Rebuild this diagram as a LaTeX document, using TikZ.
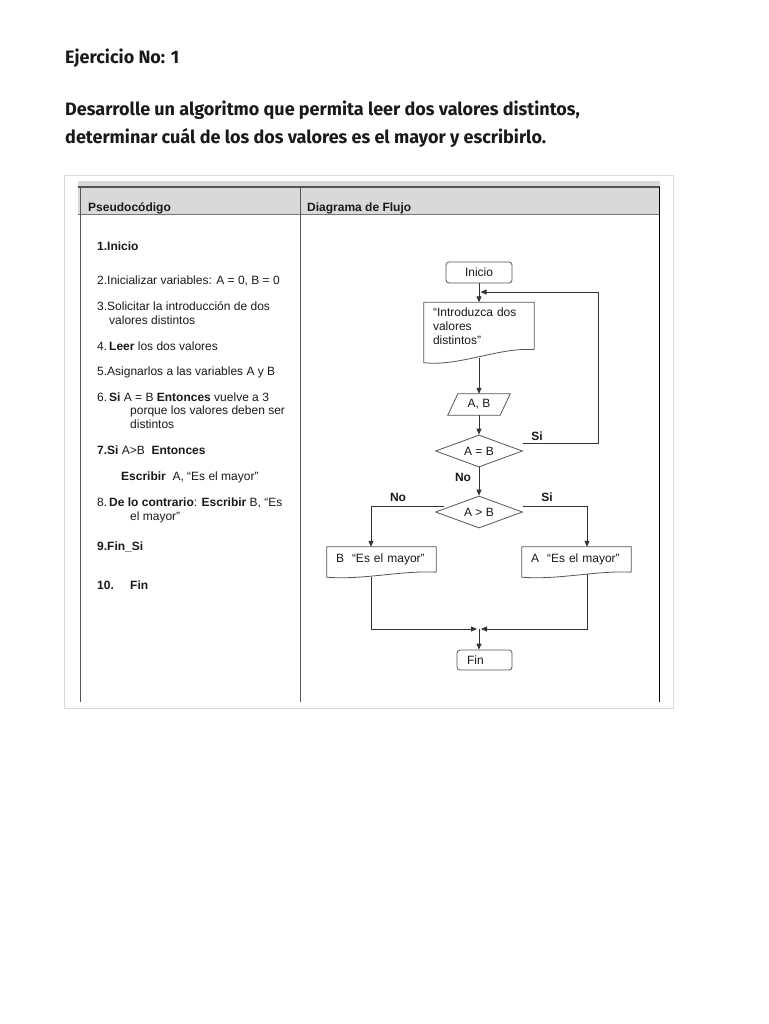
\documentclass[tikz,border=0pt]{standalone}
\usepackage{fontspec}
\setmainfont{Liberation Sans}
\newfontfamily\titlefont{Fira Sans}
\usetikzlibrary{arrows.meta,shapes.geometric,calc}
\definecolor{txt}{HTML}{1A1A1A}
\definecolor{framegray}{HTML}{DADADA}
\definecolor{headgray}{HTML}{D9D9D9}
\definecolor{rulegray}{HTML}{555555}
\definecolor{nodegray}{HTML}{555555}
\definecolor{linegray}{HTML}{333333}
\begin{document}
\begin{tikzpicture}[x=1pt,y=-1pt,
  ttl/.style={anchor=base west, inner sep=0pt, text=txt, font=\titlefont\bfseries\fontsize{18}{22}\selectfont},
  ps/.style={anchor=base west, inner sep=0pt, text=txt, font=\fontsize{12}{14}\selectfont},
  hd/.style={anchor=base west, inner sep=0pt, text=txt, font=\bfseries\fontsize{12}{14}\selectfont},
  fc/.style={text=txt, font=\fontsize{12}{13.8}\selectfont},
  term/.style={fc, draw=nodegray, line width=0.8pt, rounded corners=3pt, minimum width=66pt, minimum height=21pt, inner sep=0pt},
  dec/.style={fc, diamond, aspect=2.7, draw=nodegray, line width=0.8pt, minimum width=87pt, minimum height=32pt, inner sep=0pt},
  docbox/.style={fc, inner xsep=9pt, inner ysep=0pt, align=left},
  nodeline/.style={draw=nodegray, line width=0.8pt},
  arr/.style={draw=linegray, line width=0.8pt, -{Triangle[length=6pt,width=5pt]}},
  lbl/.style={text=txt, inner sep=0pt, font=\bfseries\fontsize{12}{14}\selectfont}
]
\useasboundingbox[fill=white] (0,0) rectangle (768,1024);

% Title
\node[ttl] (t1) at (65,64) {Ejercicio No: 1};
\node[ttl] (t2) at (65,116) {Desarrolle un algoritmo que permita leer dos valores distintos,};
\node[ttl] (t3) at (65,144) {determinar cuál de los dos valores es el mayor y escribirlo.};

% Table frame
\draw[framegray, line width=1pt] (64,176) rectangle (673,708);
\fill[headgray] (78,181) rectangle (660,214);
\draw[rulegray, line width=1.8pt] (78,187) -- (660,187);
\draw[rulegray!80, line width=0.9pt] (78,214) -- (660,214);
\draw[rulegray, line width=1pt] (80,187) -- (80,702);
\draw[rulegray, line width=1pt] (300,187) -- (300,702);
\draw[black, line width=1pt] (659,187) -- (659,702);

\node[hd] (h1) at (88,212) {Pseudocódigo};
\node[hd] (h2) at (307,212) {Diagrama de Flujo};

% Pseudocode
\node[ps] (p1) at (97,250.5) {\textbf{1.Inicio}};
\node[ps] (p2) at (97,284) {2.Inicializar variables: A = 0, B = 0};
\node[ps] (p3a) at (97,310) {3.Solicitar la introducción de dos};
\node[ps] (p3b) at (109,324) {valores distintos};
\node[ps] (p4) at (97,350) {4.\,\textbf{Leer} los dos valores};
\node[ps] (p5) at (97,375) {5.Asignarlos a las variables A y B};
\node[ps] (p6a) at (97,401) {6.\,\textbf{Si} A = B \textbf{Entonces} vuelve a 3};
\node[ps] (p6b) at (130,414) {porque los valores deben ser};
\node[ps] (p6c) at (130,428) {distintos};
\node[ps] (p7a) at (97,454) {\textbf{7.Si} A>B\ \ \textbf{Entonces}};
\node[ps] (p7b) at (121,480) {\textbf{Escribir}\ \ A, “Es el mayor”};
\node[ps] (p8a) at (97,506) {8.\,\textbf{De lo contrario}: \textbf{Escribir} B, “Es};
\node[ps] (p8b) at (130,520) {el mayor”};
\node[ps] (p9) at (97,550) {\textbf{9.Fin\_Si}};
\node[ps] (p10a) at (97,589) {\textbf{10.}};
\node[ps] (p10b) at (130,589) {\textbf{Fin}};

% Flowchart nodes
\node[term] (ini) at (479,272.5) {Inicio};
\node[docbox, text width=92pt, minimum height=47pt] (doc1) at (479,326) {“Introduzca dos\\valores\\distintos”};
\draw[nodeline] (doc1.south east) -- (doc1.north east) -- (doc1.north west) -- ($(doc1.south west)+(0,13)$) .. controls +(36,4) and +(-34,-3) .. (doc1.south east);
\node[fc, inner sep=0pt, minimum width=52pt, minimum height=21pt] (ab) at (479,404.5) {A, B};
\draw[nodeline] ($(ab.north west)+(5,0)$) -- ($(ab.north east)+(5,0)$) -- ($(ab.south east)+(-5,0)$) -- ($(ab.south west)+(-5,0)$) -- cycle;
\node[dec] (d1) at (479,451) {A = B};
\node[dec] (d2) at (479,512) {A > B};
\node[docbox, text width=91pt, minimum height=25pt] (docB) at (381.5,559.5) {B\ \ “Es el mayor”};
\draw[nodeline] (docB.south east) -- (docB.north east) -- (docB.north west) -- ($(docB.south west)+(0,5)$) .. controls +(36,3) and +(-34,-2) .. (docB.south east);
\node[docbox, text width=91pt, minimum height=25pt] (docA) at (576.5,559.5) {A\ \ “Es el mayor”};
\draw[nodeline] (docA.south east) -- (docA.north east) -- (docA.north west) -- ($(docA.south west)+(0,5)$) .. controls +(36,3) and +(-34,-2) .. (docA.south east);
\node[term, minimum width=55pt, minimum height=20pt, text width=35pt, inner xsep=10pt, align=left] (fin) at (484.5,660) {Fin};

\coordinate (loopc) at (598,292);
\coordinate (loopend) at (480.5,292);
\coordinate (merge) at (479,629);

% Connectors
\draw[arr] (ini) -- (doc1);
\draw[arr] ([yshift=-8pt]doc1.south) -- (ab.north);
\draw[arr] (ab.south) -- (d1.north);
\draw[arr] (d1) -- (d2);
\draw[arr] ([yshift=8pt]d1.east) -| (loopc) -- (loopend);
\draw[arr] ([xshift=9pt,yshift=6pt]d2.west) -| ([xshift=-10.5pt]docB.north);
\draw[arr] ([yshift=6pt]d2.east) -| ([xshift=10.5pt]docA.north);
\draw[arr] ([xshift=-10.5pt,yshift=-5pt]docB.south) |- ([xshift=-2pt]merge);
\draw[arr] ([xshift=10.5pt,yshift=-2pt]docA.south) |- ([xshift=2pt]merge);
\draw[arr] (merge) -- (merge |- fin.north);

% Labels
\node[lbl] (ls1) at (537,436) {Si};
\node[lbl] (ln1) at (463,477) {No};
\node[lbl] (ln2) at (398,497) {No};
\node[lbl] (ls2) at (547,497) {Si};
\end{tikzpicture}
\end{document}
